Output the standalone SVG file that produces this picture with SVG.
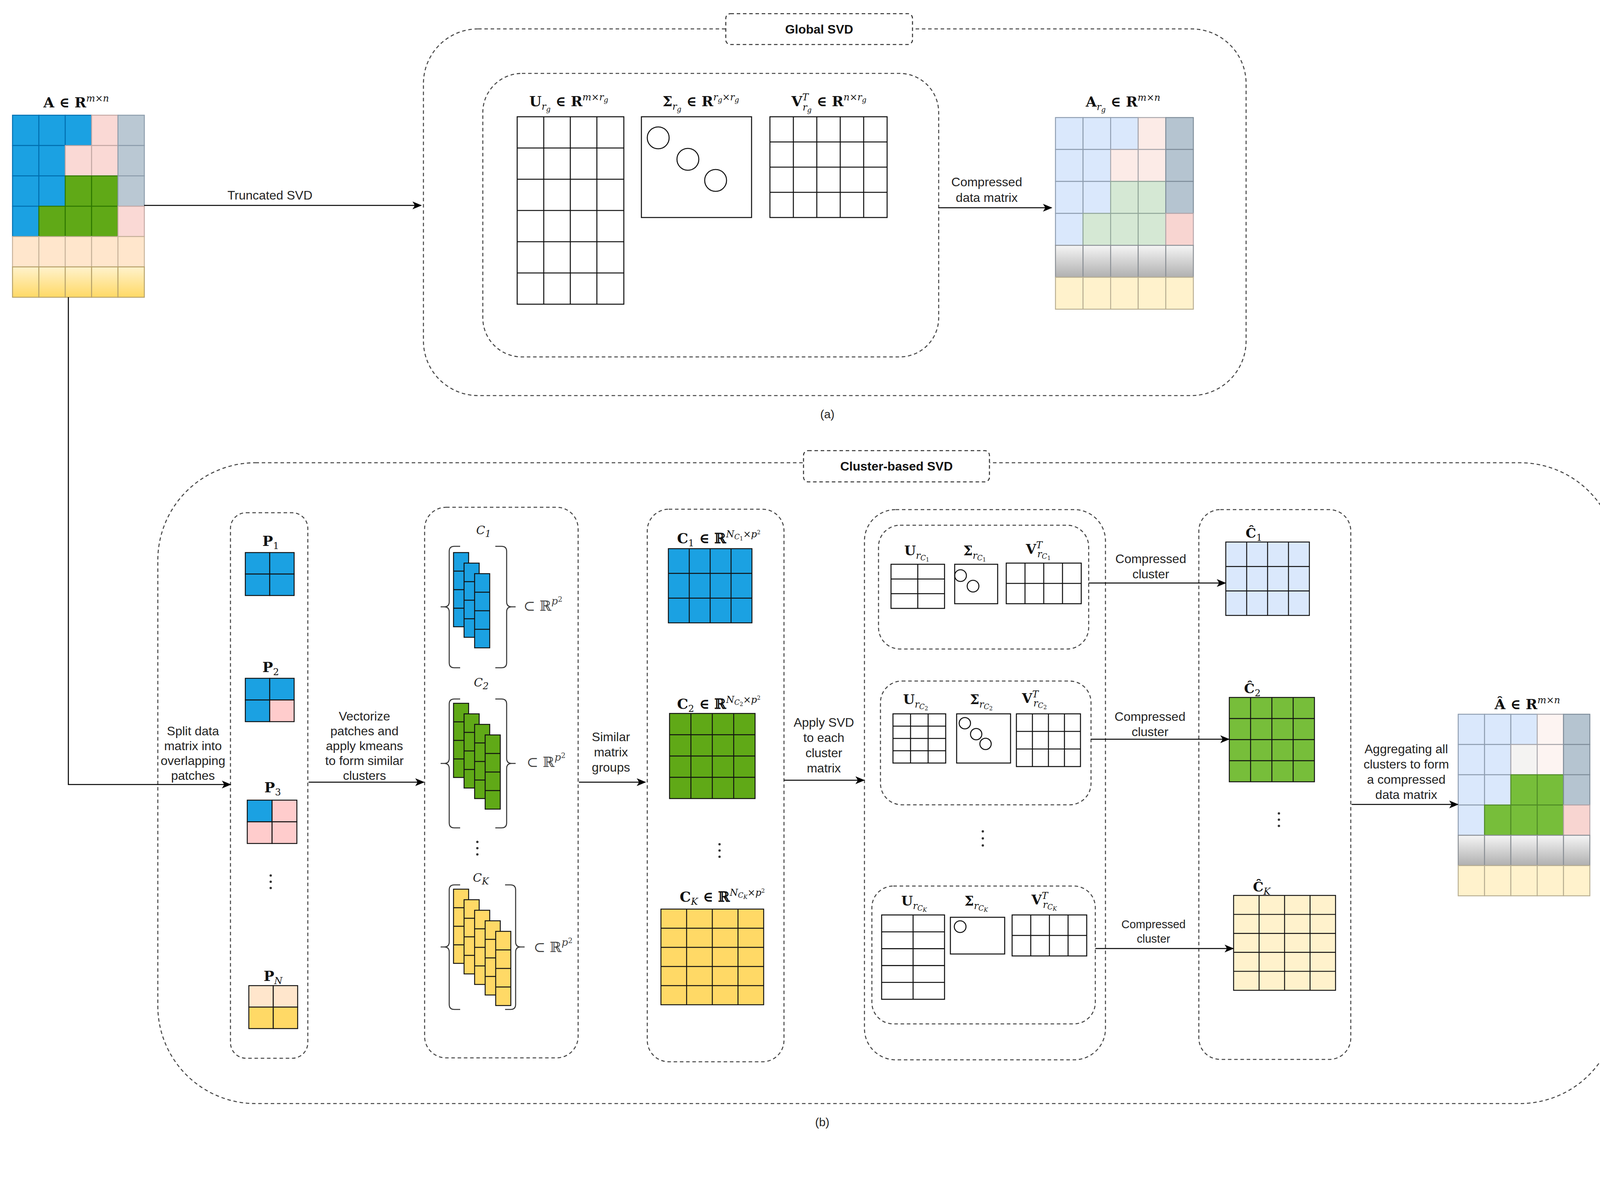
<svg xmlns="http://www.w3.org/2000/svg" width="4168" height="3032" viewBox="0 0 4168 3032">
<style>
.dash{fill:none;stroke:#444;stroke-width:2.6;stroke-dasharray:9 7}
.tbox{fill:#fff;stroke:#333;stroke-width:2.6;stroke-dasharray:9 7}
.lbl{font-family:"Liberation Sans",Arial,sans-serif;font-size:32px;fill:#222;text-anchor:middle}
.ttl{font-weight:bold;fill:#111}
.mt{font-family:"DejaVu Serif",serif;font-weight:bold;font-size:36px;fill:#111;text-anchor:middle}
.mt2{font-family:"DejaVu Serif",serif;font-weight:bold;font-size:34px;fill:#111;text-anchor:middle}
.mt3{font-family:"DejaVu Serif",serif;font-weight:bold;font-size:36px;fill:#111;text-anchor:middle}
.s{font-size:24px;font-style:italic;font-weight:normal}
.su{font-size:24px;font-weight:normal}
.ss{font-size:18px;font-style:italic;font-weight:normal}
.sn{font-size:14px;font-weight:normal}
.cal{font-family:"DejaVu Serif",serif;font-style:italic;font-size:30px;fill:#222;text-anchor:middle}
.sub{font-family:"DejaVu Serif",serif;font-size:36px;fill:#444}
.cl{stroke-width:2.4}
.B{fill:#1BA1E2;stroke:#006EAF}.Pk{fill:#FAD9D5;stroke:#C4A8A4}.Gb{fill:#BAC8D3;stroke:#8C9CAB}
.Gn{fill:#60A917;stroke:#2D7600}.Pe{fill:#FFE6CC;stroke:#C7B299}.Yg{fill:url(#gY);stroke:#B7A26A}
.lB{fill:#DAE8FC;stroke:#8E9DB0}.lP{fill:#FCEBE7;stroke:#A8A6AC}.lG{fill:#D5E8D4;stroke:#92A79A}
.dG{fill:#B5C4D0;stroke:#7F8D9A}.P2{fill:#F8D5D1;stroke:#B5A6AA}.gr{fill:url(#gGr);stroke:#8A8F95}
.lY{fill:#FFF2CC;stroke:#B8AE92}.vP{fill:#FDF4F2;stroke:#A8A6AC}.oW{fill:#F4F3F2;stroke:#A8A6AC}.G2{fill:#77BE3A;stroke:#4F8A26}
.k{stroke:#111;stroke-width:2.4}
.kB{fill:#1BA1E2}.kG{fill:#60A917}.kY{fill:#FFD966}.kPk{fill:#FFCCCC}.kPe{fill:#FFE6CC}.kLB{fill:#DAE8FC}.kG2{fill:#77BE3A}.kLY{fill:#FFF2CC}
.ln{fill:none;stroke:#111;stroke-width:2.4}
.wg{fill:#fff;stroke:#111;stroke-width:2.6}
.gl{fill:none;stroke:#111;stroke-width:2.6}
.brace{fill:none;stroke:#333;stroke-width:2.6}
.conn{fill:none;stroke:#000;stroke-width:2.6}
.arr{marker-end:url(#ah)}
.dot{fill:#333}
</style>
<defs>
<linearGradient id="gY" x1="0" y1="0" x2="0" y2="1"><stop offset="0" stop-color="#FFF2CC"/><stop offset="1" stop-color="#FFD966"/></linearGradient>
<linearGradient id="gGr" x1="0" y1="0" x2="0" y2="1"><stop offset="0" stop-color="#F5F5F5"/><stop offset="1" stop-color="#B0B0B0"/></linearGradient>
<marker id="ah" markerUnits="userSpaceOnUse" markerWidth="24" markerHeight="20" refX="22" refY="10" orient="auto"><path d="M0,0 L24,10 L0,20 L6,10 Z" fill="#000"/></marker>
</defs>
<rect x="0" y="0" width="4168" height="3032" fill="#fff"/>

<!-- ===== containers ===== -->
<g id="global-svd-box">
<rect class="dash" x="1084" y="74" width="2106" height="939" rx="140"/>
<rect class="tbox" x="1858" y="35" width="478" height="79" rx="12"/>
<text class="lbl ttl" x="2097" y="86">Global SVD</text>
<text class="lbl" x="2118" y="1071" style="font-size:30px">(a)</text>
</g>
<g id="global-inner-box"><rect class="dash" x="1236" y="188" width="1167" height="726" rx="100"/></g>

<g id="cluster-svd-box">
<rect class="dash" x="404" y="1185" width="3737" height="1641" rx="250"/>
<rect class="tbox" x="2057" y="1154" width="476" height="80" rx="12"/>
<text class="lbl ttl" x="2295" y="1205">Cluster-based SVD</text>
<text class="lbl" x="2105" y="2884" style="font-size:30px">(b)</text>
</g>

<!-- ===== Matrix A ===== -->
<g id="matrix-A">
<text class="mt" x="195" y="275">A ∈ R<tspan class="s" dy="-15">m×n</tspan></text>
<rect class="cl B" x="32" y="295" width="67.5" height="77.7"/><rect class="cl B" x="99.5" y="295" width="67.5" height="77.7"/><rect class="cl B" x="167" y="295" width="67.5" height="77.7"/><rect class="cl Pk" x="234.5" y="295" width="67.5" height="77.7"/><rect class="cl Gb" x="302" y="295" width="67.5" height="77.7"/>
<rect class="cl B" x="32" y="372.7" width="67.5" height="77.7"/><rect class="cl B" x="99.5" y="372.7" width="67.5" height="77.7"/><rect class="cl Pk" x="167" y="372.7" width="67.5" height="77.7"/><rect class="cl Pk" x="234.5" y="372.7" width="67.5" height="77.7"/><rect class="cl Gb" x="302" y="372.7" width="67.5" height="77.7"/>
<rect class="cl B" x="32" y="450.4" width="67.5" height="77.7"/><rect class="cl B" x="99.5" y="450.4" width="67.5" height="77.7"/><rect class="cl Gn" x="167" y="450.4" width="67.5" height="77.7"/><rect class="cl Gn" x="234.5" y="450.4" width="67.5" height="77.7"/><rect class="cl Gb" x="302" y="450.4" width="67.5" height="77.7"/>
<rect class="cl B" x="32" y="528.1" width="67.5" height="77.7"/><rect class="cl Gn" x="99.5" y="528.1" width="67.5" height="77.7"/><rect class="cl Gn" x="167" y="528.1" width="67.5" height="77.7"/><rect class="cl Gn" x="234.5" y="528.1" width="67.5" height="77.7"/><rect class="cl Pk" x="302" y="528.1" width="67.5" height="77.7"/>
<rect class="cl Pe" x="32" y="605.8" width="67.5" height="77.7"/><rect class="cl Pe" x="99.5" y="605.8" width="67.5" height="77.7"/><rect class="cl Pe" x="167" y="605.8" width="67.5" height="77.7"/><rect class="cl Pe" x="234.5" y="605.8" width="67.5" height="77.7"/><rect class="cl Pe" x="302" y="605.8" width="67.5" height="77.7"/>
<rect class="cl Yg" x="32" y="683.5" width="67.5" height="77.7"/><rect class="cl Yg" x="99.5" y="683.5" width="67.5" height="77.7"/><rect class="cl Yg" x="167" y="683.5" width="67.5" height="77.7"/><rect class="cl Yg" x="234.5" y="683.5" width="67.5" height="77.7"/><rect class="cl Yg" x="302" y="683.5" width="67.5" height="77.7"/>
</g>

<!-- ===== Global SVD factors ===== -->
<g id="U-rg">
<text class="mt" x="1456" y="272">U<tspan class="s" dy="9">r</tspan><tspan class="ss" dy="5">g</tspan><tspan dy="-14"> ∈ R</tspan><tspan class="s" dy="-15">m×r</tspan><tspan class="ss" dy="5">g</tspan></text>
<rect class="wg" x="1324" y="299" width="273" height="480"/>
<path class="gl" d="M1392,299V779M1460,299V779M1528,299V779M1324,379H1597M1324,459H1597M1324,539H1597M1324,619H1597M1324,699H1597"/>
</g>
<g id="Sigma-rg">
<text class="mt" x="1794" y="272">Σ<tspan class="s" dy="9">r</tspan><tspan class="ss" dy="5">g</tspan><tspan dy="-14"> ∈ R</tspan><tspan class="s" dy="-15">r</tspan><tspan class="ss" dy="5">g</tspan><tspan class="s" dy="-5">×r</tspan><tspan class="ss" dy="5">g</tspan></text>
<rect class="wg" x="1642" y="299" width="282" height="258"/>
<circle class="gl" cx="1685" cy="353" r="28"/><circle class="gl" cx="1761" cy="408" r="28"/><circle class="gl" cx="1832" cy="462" r="28"/>
</g>
<g id="V-rg">
<text class="mt" x="2122" y="272">V<tspan class="s" dy="-15">T</tspan><tspan class="s" dx="-15" dy="26">r</tspan><tspan class="ss" dy="5">g</tspan><tspan dy="-16"> ∈ R</tspan><tspan class="s" dy="-15">n×r</tspan><tspan class="ss" dy="5">g</tspan></text>
<rect class="wg" x="1971" y="299" width="300" height="258"/>
<path class="gl" d="M2031,299V557M2091,299V557M2151,299V557M2211,299V557M1971,363.5H2271M1971,428H2271M1971,492.5H2271"/>
</g>

<!-- ===== A_rg ===== -->
<g id="matrix-A-rg">
<text class="mt" x="2875" y="273">A<tspan class="s" dy="9">r</tspan><tspan class="ss" dy="5">g</tspan><tspan dy="-14"> ∈ R</tspan><tspan class="s" dy="-15">m×n</tspan></text>
<rect class="cl lB" x="2702" y="301" width="70.6" height="81.8"/><rect class="cl lB" x="2772.6" y="301" width="70.6" height="81.8"/><rect class="cl lB" x="2843.2" y="301" width="70.6" height="81.8"/><rect class="cl lP" x="2913.8" y="301" width="70.6" height="81.8"/><rect class="cl dG" x="2984.4" y="301" width="70.6" height="81.8"/>
<rect class="cl lB" x="2702" y="382.8" width="70.6" height="81.8"/><rect class="cl lB" x="2772.6" y="382.8" width="70.6" height="81.8"/><rect class="cl lP" x="2843.2" y="382.8" width="70.6" height="81.8"/><rect class="cl lP" x="2913.8" y="382.8" width="70.6" height="81.8"/><rect class="cl dG" x="2984.4" y="382.8" width="70.6" height="81.8"/>
<rect class="cl lB" x="2702" y="464.6" width="70.6" height="81.8"/><rect class="cl lB" x="2772.6" y="464.6" width="70.6" height="81.8"/><rect class="cl lG" x="2843.2" y="464.6" width="70.6" height="81.8"/><rect class="cl lG" x="2913.8" y="464.6" width="70.6" height="81.8"/><rect class="cl dG" x="2984.4" y="464.6" width="70.6" height="81.8"/>
<rect class="cl lB" x="2702" y="546.4" width="70.6" height="81.8"/><rect class="cl lG" x="2772.6" y="546.4" width="70.6" height="81.8"/><rect class="cl lG" x="2843.2" y="546.4" width="70.6" height="81.8"/><rect class="cl lG" x="2913.8" y="546.4" width="70.6" height="81.8"/><rect class="cl P2" x="2984.4" y="546.4" width="70.6" height="81.8"/>
<rect class="cl gr" x="2702" y="628.2" width="70.6" height="81.8"/><rect class="cl gr" x="2772.6" y="628.2" width="70.6" height="81.8"/><rect class="cl gr" x="2843.2" y="628.2" width="70.6" height="81.8"/><rect class="cl gr" x="2913.8" y="628.2" width="70.6" height="81.8"/><rect class="cl gr" x="2984.4" y="628.2" width="70.6" height="81.8"/>
<rect class="cl lY" x="2702" y="710" width="70.6" height="81.8"/><rect class="cl lY" x="2772.6" y="710" width="70.6" height="81.8"/><rect class="cl lY" x="2843.2" y="710" width="70.6" height="81.8"/><rect class="cl lY" x="2913.8" y="710" width="70.6" height="81.8"/><rect class="cl lY" x="2984.4" y="710" width="70.6" height="81.8"/>
</g>

<!-- ===== Patches column ===== -->
<g id="patches">
<rect class="dash" x="590" y="1313" width="198" height="1397" rx="40"/>
<text class="mt" x="693" y="1398">P<tspan class="su" dy="8">1</tspan></text>
<rect class="k kB" x="628" y="1415" width="62.5" height="55"/><rect class="k kB" x="690.5" y="1415" width="62.5" height="55"/>
<rect class="k kB" x="628" y="1470" width="62.5" height="55"/><rect class="k kB" x="690.5" y="1470" width="62.5" height="55"/>
<text class="mt" x="693" y="1721">P<tspan class="su" dy="8">2</tspan></text>
<rect class="k kB" x="628" y="1737" width="62.5" height="55.5"/><rect class="k kB" x="690.5" y="1737" width="62.5" height="55.5"/>
<rect class="k kB" x="628" y="1792.5" width="62.5" height="55.5"/><rect class="k kPk" x="690.5" y="1792.5" width="62.5" height="55.5"/>
<text class="mt" x="698" y="2029">P<tspan class="su" dy="8">3</tspan></text>
<rect class="k kB" x="633" y="2049" width="63.5" height="55.5"/><rect class="k kPk" x="696.5" y="2049" width="63.5" height="55.5"/>
<rect class="k kPk" x="633" y="2104.5" width="63.5" height="55.5"/><rect class="k kPk" x="696.5" y="2104.5" width="63.5" height="55.5"/>
<circle class="dot" cx="693" cy="2242" r="3"/><circle class="dot" cx="693" cy="2258" r="3"/><circle class="dot" cx="693" cy="2274" r="3"/>
<text class="mt" x="699" y="2512">P<tspan class="s" dy="8">N</tspan></text>
<rect class="k kPe" x="637" y="2524" width="62.5" height="55"/><rect class="k kPe" x="699.5" y="2524" width="62.5" height="55"/>
<rect class="k kY" x="637" y="2579" width="62.5" height="55"/><rect class="k kY" x="699.5" y="2579" width="62.5" height="55"/>
</g>

<!-- ===== Clusters column ===== -->
<g id="clusters">
<rect class="dash" x="1087" y="1299" width="393" height="1410" rx="55"/>
<text class="cal" x="1238" y="1368">C<tspan class="su" dy="7">1</tspan></text>
<path class="brace" d="M1178,1399H1163Q1150,1399 1150,1412V1541Q1150,1554 1137,1554H1128M1137,1554Q1150,1554 1150,1567V1697Q1150,1710 1163,1710H1178"/>
<g transform="translate(1161,1415)"><rect class="k kB" width="38.7" height="190"/><path class="ln" d="M0,47.5h38.7M0,95h38.7M0,142.5h38.7"/></g>
<g transform="translate(1188,1442)"><rect class="k kB" width="38.7" height="190"/><path class="ln" d="M0,47.5h38.7M0,95h38.7M0,142.5h38.7"/></g>
<g transform="translate(1215,1469)"><rect class="k kB" width="38.7" height="190"/><path class="ln" d="M0,47.5h38.7M0,95h38.7M0,142.5h38.7"/></g>
<path class="brace" d="M1268,1399H1284Q1297,1399 1297,1412V1541Q1297,1554 1310,1554H1320M1310,1554Q1297,1554 1297,1567V1697Q1297,1710 1284,1710H1268"/>
<text class="sub" x="1340" y="1564">⊂&#160;ℝ<tspan style="font-size:26px;font-style:italic" dy="-16">p</tspan><tspan style="font-size:18px" dy="-7">2</tspan></text>

<text class="cal" x="1232" y="1758">C<tspan class="su" dy="7">2</tspan></text>
<path class="brace" d="M1178,1790H1163Q1150,1790 1150,1803V1942Q1150,1955 1137,1955H1128M1137,1955Q1150,1955 1150,1968V2107Q1150,2120 1163,2120H1178"/>
<g transform="translate(1161,1801)"><rect class="k kG" width="38.7" height="190"/><path class="ln" d="M0,47.5h38.7M0,95h38.7M0,142.5h38.7"/></g>
<g transform="translate(1188,1828)"><rect class="k kG" width="38.7" height="190"/><path class="ln" d="M0,47.5h38.7M0,95h38.7M0,142.5h38.7"/></g>
<g transform="translate(1215,1855)"><rect class="k kG" width="38.7" height="190"/><path class="ln" d="M0,47.5h38.7M0,95h38.7M0,142.5h38.7"/></g>
<g transform="translate(1242,1882)"><rect class="k kG" width="38.7" height="190"/><path class="ln" d="M0,47.5h38.7M0,95h38.7M0,142.5h38.7"/></g>
<path class="brace" d="M1268,1790H1284Q1297,1790 1297,1803V1942Q1297,1955 1310,1955H1320M1310,1955Q1297,1955 1297,1968V2107Q1297,2120 1284,2120H1268"/>
<text class="sub" x="1348" y="1964">⊂&#160;ℝ<tspan style="font-size:26px;font-style:italic" dy="-16">p</tspan><tspan style="font-size:18px" dy="-7">2</tspan></text>

<circle class="dot" cx="1222" cy="2156" r="3"/><circle class="dot" cx="1222" cy="2172" r="3"/><circle class="dot" cx="1222" cy="2188" r="3"/>

<text class="cal" x="1231" y="2258">C<tspan class="s" dy="7">K</tspan></text>
<path class="brace" d="M1178,2266H1163Q1150,2266 1150,2279V2412Q1150,2425 1137,2425H1128M1137,2425Q1150,2425 1150,2438V2572Q1150,2585 1163,2585H1178"/>
<g transform="translate(1161,2277)"><rect class="k kY" width="38.7" height="190"/><path class="ln" d="M0,47.5h38.7M0,95h38.7M0,142.5h38.7"/></g>
<g transform="translate(1188,2304)"><rect class="k kY" width="38.7" height="190"/><path class="ln" d="M0,47.5h38.7M0,95h38.7M0,142.5h38.7"/></g>
<g transform="translate(1215,2331)"><rect class="k kY" width="38.7" height="190"/><path class="ln" d="M0,47.5h38.7M0,95h38.7M0,142.5h38.7"/></g>
<g transform="translate(1242,2358)"><rect class="k kY" width="38.7" height="190"/><path class="ln" d="M0,47.5h38.7M0,95h38.7M0,142.5h38.7"/></g>
<g transform="translate(1269,2385)"><rect class="k kY" width="38.7" height="190"/><path class="ln" d="M0,47.5h38.7M0,95h38.7M0,142.5h38.7"/></g>
<path class="brace" d="M1293,2266H1307Q1320,2266 1320,2279V2412Q1320,2425 1333,2425H1343M1333,2425Q1320,2425 1320,2438V2572Q1320,2585 1307,2585H1293"/>
<text class="sub" x="1366" y="2438">⊂&#160;ℝ<tspan style="font-size:26px;font-style:italic" dy="-16">p</tspan><tspan style="font-size:18px" dy="-7">2</tspan></text>
</g>

<!-- ===== Cluster matrices ===== -->
<g id="cluster-matrices">
<rect class="dash" x="1657" y="1304" width="350" height="1415" rx="55"/>
<text class="mt3" x="1840" y="1391">C<tspan class="su" dy="8">1</tspan><tspan dy="-8"> ∈ ℝ</tspan><tspan class="s" dy="-15">N</tspan><tspan class="ss" dy="5">C</tspan><tspan class="sn" dy="3">1</tspan><tspan class="s" dy="-8">×p</tspan><tspan class="sn" dy="-8">2</tspan></text>
<rect class="k kB" x="1711" y="1405" width="214" height="190"/>
<path class="ln" d="M1764.5,1405V1595M1818,1405V1595M1871.5,1405V1595M1711,1468.3H1925M1711,1531.7H1925"/>
<text class="mt3" x="1840" y="1815">C<tspan class="su" dy="8">2</tspan><tspan dy="-8"> ∈ ℝ</tspan><tspan class="s" dy="-15">N</tspan><tspan class="ss" dy="5">C</tspan><tspan class="sn" dy="3">2</tspan><tspan class="s" dy="-8">×p</tspan><tspan class="sn" dy="-8">2</tspan></text>
<rect class="k kG" x="1714" y="1827" width="219" height="218"/>
<path class="ln" d="M1768.75,1827V2045M1823.5,1827V2045M1878.25,1827V2045M1714,1881.5H1933M1714,1936H1933M1714,1990.5H1933"/>
<circle class="dot" cx="1842" cy="2162" r="3"/><circle class="dot" cx="1842" cy="2178" r="3"/><circle class="dot" cx="1842" cy="2194" r="3"/>
<text class="mt3" x="1849" y="2309">C<tspan class="s" dy="8">K</tspan><tspan dy="-8"> ∈ ℝ</tspan><tspan class="s" dy="-15">N</tspan><tspan class="ss" dy="5">C</tspan><tspan class="sn" dy="3" style="font-style:italic">K</tspan><tspan class="s" dy="-8">×p</tspan><tspan class="sn" dy="-8">2</tspan></text>
<rect class="k kY" x="1692" y="2328" width="263" height="245"/>
<path class="ln" d="M1757.75,2328V2573M1823.5,2328V2573M1889.25,2328V2573M1692,2377H1955M1692,2426H1955M1692,2475H1955M1692,2524H1955"/>
</g>

<!-- ===== Per-cluster SVD ===== -->
<g id="cluster-svd">
<rect class="dash" x="2213" y="1305" width="617" height="1409" rx="80"/>
<g id="svd-c1">
<rect class="dash" x="2249" y="1345" width="538" height="317" rx="55"/>
<text class="mt2" x="2347" y="1422">U<tspan class="s" dy="9">r</tspan><tspan class="ss" dy="4">C</tspan><tspan class="sn" dy="3">1</tspan></text>
<rect class="wg" x="2281" y="1445" width="137" height="113"/><path class="gl" d="M2349.5,1445V1558M2281,1482.7H2418M2281,1520.3H2418"/>
<text class="mt2" x="2495" y="1422">Σ<tspan class="s" dy="9">r</tspan><tspan class="ss" dy="4">C</tspan><tspan class="sn" dy="3">1</tspan></text>
<rect class="wg" x="2444" y="1445" width="110" height="101"/><circle class="gl" cx="2459" cy="1474" r="15"/><circle class="gl" cx="2491" cy="1501" r="15"/>
<text class="mt2" x="2658" y="1418">V<tspan class="s" dy="-14">T</tspan><tspan class="s" dx="-13" dy="23">r</tspan><tspan class="ss" dy="4">C</tspan><tspan class="sn" dy="3">1</tspan></text>
<rect class="wg" x="2576" y="1442" width="192" height="104"/><path class="gl" d="M2624,1442V1546M2672,1442V1546M2720,1442V1546M2576,1494H2768"/>
</g>
<g id="svd-c2">
<rect class="dash" x="2254" y="1744" width="539" height="317" rx="55"/>
<text class="mt2" x="2344" y="1803">U<tspan class="s" dy="9">r</tspan><tspan class="ss" dy="4">C</tspan><tspan class="sn" dy="3">2</tspan></text>
<rect class="wg" x="2286" y="1828" width="135" height="126"/><path class="gl" d="M2331,1828V1954M2376,1828V1954M2286,1859.5H2421M2286,1891H2421M2286,1922.5H2421"/>
<text class="mt2" x="2512" y="1803">Σ<tspan class="s" dy="9">r</tspan><tspan class="ss" dy="4">C</tspan><tspan class="sn" dy="3">2</tspan></text>
<rect class="wg" x="2449" y="1828" width="138" height="126"/><circle class="gl" cx="2470" cy="1852" r="14.5"/><circle class="gl" cx="2499" cy="1880" r="14.5"/><circle class="gl" cx="2523" cy="1905" r="14.5"/>
<text class="mt2" x="2648" y="1800">V<tspan class="s" dy="-14">T</tspan><tspan class="s" dx="-13" dy="23">r</tspan><tspan class="ss" dy="4">C</tspan><tspan class="sn" dy="3">2</tspan></text>
<rect class="wg" x="2602" y="1828" width="164" height="135"/><path class="gl" d="M2643,1828V1963M2684,1828V1963M2725,1828V1963M2602,1873H2766M2602,1918H2766"/>
</g>
<circle class="dot" cx="2516" cy="2129" r="3"/><circle class="dot" cx="2516" cy="2147" r="3"/><circle class="dot" cx="2516" cy="2165" r="3"/>
<g id="svd-ck">
<rect class="dash" x="2232" y="2269" width="572" height="353" rx="55"/>
<text class="mt2" x="2340" y="2319">U<tspan class="s" dy="9">r</tspan><tspan class="ss" dy="4">C</tspan><tspan class="sn" dy="3" style="font-style:italic">K</tspan></text>
<rect class="wg" x="2257" y="2343" width="161" height="216"/><path class="gl" d="M2337.5,2343V2559M2257,2386.2H2418M2257,2429.4H2418M2257,2472.6H2418M2257,2515.8H2418"/>
<text class="mt2" x="2499" y="2319">Σ<tspan class="s" dy="9">r</tspan><tspan class="ss" dy="4">C</tspan><tspan class="sn" dy="3" style="font-style:italic">K</tspan></text>
<rect class="wg" x="2433" y="2349" width="139" height="94"/><circle class="gl" cx="2458" cy="2373" r="15"/>
<text class="mt2" x="2673" y="2316">V<tspan class="s" dy="-14">T</tspan><tspan class="s" dx="-13" dy="23">r</tspan><tspan class="ss" dy="4">C</tspan><tspan class="sn" dy="3" style="font-style:italic">K</tspan></text>
<rect class="wg" x="2591" y="2343" width="191" height="105"/><path class="gl" d="M2638.75,2343V2448M2686.5,2343V2448M2734.25,2343V2448M2591,2395.5H2782"/>
</g>
</g>

<!-- ===== Compressed clusters ===== -->
<g id="compressed-clusters">
<rect class="dash" x="3069" y="1305" width="389" height="1408" rx="55"/>
<text class="mt2" x="3210" y="1377">Ĉ<tspan class="su" dy="8">1</tspan></text>
<rect class="k kLB" x="3138" y="1388" width="214" height="188"/>
<path class="ln" d="M3191.5,1388V1576M3245,1388V1576M3298.5,1388V1576M3138,1450.7H3352M3138,1513.3H3352"/>
<text class="mt2" x="3206" y="1775">Ĉ<tspan class="su" dy="8">2</tspan></text>
<rect class="k kG2" x="3147" y="1786" width="218" height="216"/>
<path class="ln" d="M3201.5,1786V2002M3256,1786V2002M3310.5,1786V2002M3147,1840H3365M3147,1894H3365M3147,1948H3365"/>
<circle class="dot" cx="3274" cy="2083" r="3"/><circle class="dot" cx="3274" cy="2099" r="3"/><circle class="dot" cx="3274" cy="2115" r="3"/>
<text class="mt2" x="3230" y="2283">Ĉ<tspan class="s" dy="8">K</tspan></text>
<rect class="k kLY" x="3158" y="2293" width="261" height="243"/>
<path class="ln" d="M3223.25,2293V2536M3288.5,2293V2536M3353.75,2293V2536M3158,2341.6H3419M3158,2390.2H3419M3158,2438.8H3419M3158,2487.4H3419"/>
</g>

<!-- ===== A hat ===== -->
<g id="matrix-A-hat">
<text class="mt" x="3910" y="1816">Â ∈ R<tspan class="s" dy="-15">m×n</tspan></text>
<rect class="cl lB" x="3733" y="1829" width="67.4" height="77.5"/><rect class="cl lB" x="3800.4" y="1829" width="67.4" height="77.5"/><rect class="cl lB" x="3867.8" y="1829" width="67.4" height="77.5"/><rect class="cl vP" x="3935.2" y="1829" width="67.4" height="77.5"/><rect class="cl dG" x="4002.6" y="1829" width="67.4" height="77.5"/>
<rect class="cl lB" x="3733" y="1906.5" width="67.4" height="77.5"/><rect class="cl lB" x="3800.4" y="1906.5" width="67.4" height="77.5"/><rect class="cl oW" x="3867.8" y="1906.5" width="67.4" height="77.5"/><rect class="cl vP" x="3935.2" y="1906.5" width="67.4" height="77.5"/><rect class="cl dG" x="4002.6" y="1906.5" width="67.4" height="77.5"/>
<rect class="cl lB" x="3733" y="1984" width="67.4" height="77.5"/><rect class="cl lB" x="3800.4" y="1984" width="67.4" height="77.5"/><rect class="cl G2" x="3867.8" y="1984" width="67.4" height="77.5"/><rect class="cl G2" x="3935.2" y="1984" width="67.4" height="77.5"/><rect class="cl dG" x="4002.6" y="1984" width="67.4" height="77.5"/>
<rect class="cl lB" x="3733" y="2061.5" width="67.4" height="77.5"/><rect class="cl G2" x="3800.4" y="2061.5" width="67.4" height="77.5"/><rect class="cl G2" x="3867.8" y="2061.5" width="67.4" height="77.5"/><rect class="cl G2" x="3935.2" y="2061.5" width="67.4" height="77.5"/><rect class="cl P2" x="4002.6" y="2061.5" width="67.4" height="77.5"/>
<rect class="cl gr" x="3733" y="2139" width="67.4" height="77.5"/><rect class="cl gr" x="3800.4" y="2139" width="67.4" height="77.5"/><rect class="cl gr" x="3867.8" y="2139" width="67.4" height="77.5"/><rect class="cl gr" x="3935.2" y="2139" width="67.4" height="77.5"/><rect class="cl gr" x="4002.6" y="2139" width="67.4" height="77.5"/>
<rect class="cl lY" x="3733" y="2216.5" width="67.4" height="77.5"/><rect class="cl lY" x="3800.4" y="2216.5" width="67.4" height="77.5"/><rect class="cl lY" x="3867.8" y="2216.5" width="67.4" height="77.5"/><rect class="cl lY" x="3935.2" y="2216.5" width="67.4" height="77.5"/><rect class="cl lY" x="4002.6" y="2216.5" width="67.4" height="77.5"/>
</g>

<!-- ===== Connectors ===== -->
<g id="connectors">
<path class="conn arr" d="M369,526H1078"/>
<text class="lbl" x="691" y="511">Truncated SVD</text>
<path class="conn arr" d="M2403,532H2692"/>
<text class="lbl" x="2526" y="477">Compressed</text>
<text class="lbl" x="2526" y="517">data matrix</text>
<path class="conn arr" d="M175,761V2009H590"/>
<text class="lbl" x="494" y="1883">Split data</text>
<text class="lbl" x="494" y="1921">matrix into</text>
<text class="lbl" x="494" y="1959">overlapping</text>
<text class="lbl" x="494" y="1997">patches</text>
<path class="conn arr" d="M790,2003H1085"/>
<text class="lbl" x="933" y="1845">Vectorize</text>
<text class="lbl" x="933" y="1883">patches and</text>
<text class="lbl" x="933" y="1921">apply kmeans</text>
<text class="lbl" x="933" y="1959">to form similar</text>
<text class="lbl" x="933" y="1997">clusters</text>
<path class="conn arr" d="M1482,2003H1652"/>
<text class="lbl" x="1564" y="1898">Similar</text>
<text class="lbl" x="1564" y="1937">matrix</text>
<text class="lbl" x="1564" y="1976">groups</text>
<path class="conn arr" d="M2007,1998H2212"/>
<text class="lbl" x="2109" y="1861">Apply SVD</text>
<text class="lbl" x="2109" y="1900">to each</text>
<text class="lbl" x="2109" y="1939">cluster</text>
<text class="lbl" x="2109" y="1978">matrix</text>
<path class="conn arr" d="M2787,1493H3137"/>
<text class="lbl" x="2946" y="1442">Compressed</text>
<text class="lbl" x="2946" y="1481">cluster</text>
<path class="conn arr" d="M2793,1893H3146"/>
<text class="lbl" x="2944" y="1846">Compressed</text>
<text class="lbl" x="2944" y="1885">cluster</text>
<path class="conn arr" d="M2804,2429H3157"/>
<text class="lbl" x="2953" y="2377" style="font-size:29px">Compressed</text>
<text class="lbl" x="2953" y="2414" style="font-size:29px">cluster</text>
<path class="conn arr" d="M3460,2060H3732"/>
<text class="lbl" x="3600" y="1929">Aggregating all</text>
<text class="lbl" x="3600" y="1968">clusters to form</text>
<text class="lbl" x="3600" y="2007">a compressed</text>
<text class="lbl" x="3600" y="2046">data matrix</text>
</g>
</svg>
